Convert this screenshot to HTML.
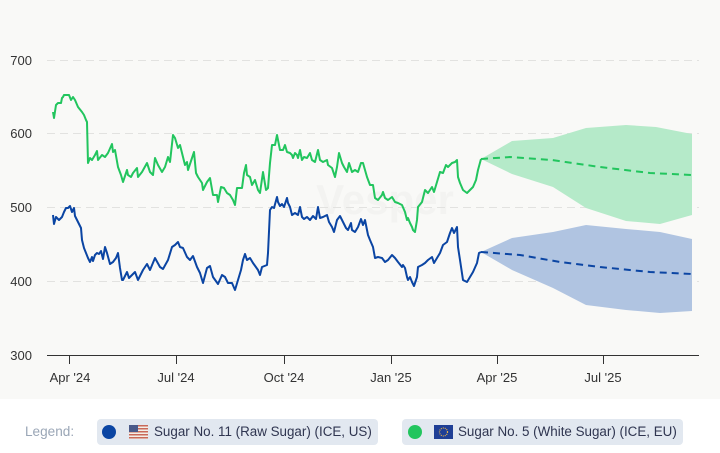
<!DOCTYPE html>
<html><head><meta charset="utf-8"><style>
html,body{margin:0;padding:0;background:#fff;}
body{width:720px;height:453px;overflow:hidden;position:relative;font-family:"Liberation Sans",sans-serif;}
.chart{position:absolute;left:0;top:0;width:720px;height:399px;background:#f9f9f7;}
.leg{position:absolute;top:419px;height:26px;background:#e2e8f0;border-radius:4px;}
.lt{position:absolute;top:0;line-height:26px;font-size:13.4px;color:#2f3550;white-space:nowrap;}
.dot{position:absolute;top:6px;width:14px;height:14px;border-radius:50%;}
</style></head><body>
<div class="chart">
<svg width="720" height="399" viewBox="0 0 720 399" xmlns="http://www.w3.org/2000/svg" style="position:absolute;left:0;top:0">
<text x="385" y="214" font-family="Liberation Sans" font-weight="bold" font-size="42" fill="#f3f3f1" text-anchor="middle">Vesper</text>
<g stroke="#e2e2e0" stroke-width="1" stroke-dasharray="8,5">
<line x1="47" y1="60.5" x2="699" y2="60.5"/>
<line x1="47" y1="133.5" x2="699" y2="133.5"/>
<line x1="47" y1="207.5" x2="699" y2="207.5"/>
<line x1="47" y1="281.5" x2="699" y2="281.5"/>
</g>
<g font-family="Liberation Sans" font-size="13" fill="#333" text-anchor="end">
<text x="32" y="65">700</text>
<text x="32" y="138">600</text>
<text x="32" y="212">500</text>
<text x="32" y="286">400</text>
<text x="32" y="360">300</text>
</g>
<line x1="47" y1="355.5" x2="699" y2="355.5" stroke="#333" stroke-width="1"/>
<g stroke="#333" stroke-width="1">
<line x1="69.5" y1="355" x2="69.5" y2="364"/>
<line x1="176.5" y1="355" x2="176.5" y2="364"/>
<line x1="284.5" y1="355" x2="284.5" y2="364"/>
<line x1="391.5" y1="355" x2="391.5" y2="364"/>
<line x1="497.5" y1="355" x2="497.5" y2="364"/>
<line x1="603.5" y1="355" x2="603.5" y2="364"/>
</g>
<g font-family="Liberation Sans" font-size="13" fill="#333" text-anchor="middle">
<text x="70" y="382">Apr '24</text>
<text x="176" y="382">Jul '24</text>
<text x="284" y="382">Oct '24</text>
<text x="391" y="382">Jan '25</text>
<text x="497" y="382">Apr '25</text>
<text x="603" y="382">Jul '25</text>
</g>
<polygon fill="#b5eac9" points="481,159 512,141 553,138 586,128 626,125 656,127 692,134 692,215 660,224 626,221 586,208 553,187 512,174"/>
<polygon fill="#b0c4e1" points="481,252 512,238 553,232 586,225 626,229 660,232 692,239 692,311 660,313 626,310 586,305 553,288 512,270"/>
<polyline fill="none" stroke="#22c55e" stroke-width="2" stroke-dasharray="7,5" points="481,159 510,157 552,160 600,167 650,173 692,175"/>
<polyline fill="none" stroke="#0b45a3" stroke-width="2" stroke-dasharray="7,5" points="481,252 520,255 560,262 600,267 650,272 692,274"/>
<polyline fill="none" stroke="#22c55e" stroke-width="2" stroke-linejoin="round" points="53,112 54,118 56,105 58,103 61,103 62,98 63,97 64,95 67,95 69,95 71,100 73,97 75,100 78,107 82,112 84,115 86,120 87,122 88,163 90,158 92,160 95,155 97,151 98,160 102,155 105,157 108,153 112,144 113,152 115,150 118,167 121,175 123,182 127,170 128,175 131,177 133,173 137,168 138,177 142,172 147,163 150,172 153,175 155,158 158,165 162,172 165,167 168,157 170,162 173,135 175,138 178,148 180,145 182,153 185,165 187,162 188,170 192,158 194,152 196,173 198,177 202,183 203,190 207,182 210,178 213,195 217,195 218,202 221,187 224,188 227,193 230,195 233,200 235,205 237,188 242,188 244,173 246,165 247,175 250,177 252,185 255,180 258,190 260,193 263,172 266,190 268,188 270,163 272,145 275,145 277,135 278,140 280,150 283,150 285,145 287,152 290,153 292,155 293,158 295,153 297,155 298,158 300,150 302,160 304,157 307,158 310,153 312,160 315,162 318,150 320,160 323,162 327,160 328,165 332,168 335,177 337,167 339,153 342,163 344,167 347,172 349,163 352,172 355,170 358,172 361,163 363,163 365,170 367,177 370,185 373,185 375,198 378,200 382,195 383,192 385,198 388,200 392,197 395,202 398,203 402,205 405,212 407,220 408,218 410,223 412,227 413,230 415,232 417,220 418,207 422,202 425,190 428,193 432,187 434,192 437,182 440,172 443,173 446,165 448,167 452,163 455,162 457,160 458,177 460,183 463,190 467,193 470,190 473,187 476,180 478,170 481,159"/>
<polyline fill="none" stroke="#0b45a3" stroke-width="2" stroke-linejoin="round" points="53,215 54,224 56,217 59,220 62,217 64,212 66,208 68,208 70,206 72,212 74,208 75,216 78,222 81,228 82,240 84,248 86,253 88,258 90,262 92,257 93,261 95,255 97,253 99,254 101,251 103,259 105,247 107,253 110,264 113,262 116,258 118,253 120,268 122,280 123,280 127,272 129,278 135,272 138,280 143,270 147,264 150,270 155,258 160,267 163,269 168,260 172,247 175,245 178,242 180,247 183,248 187,257 190,260 193,256 197,267 200,273 203,283 207,268 210,266 213,277 218,284 222,275 225,277 228,283 232,283 235,290 238,280 241,270 243,260 245,254 247,260 250,258 253,263 258,270 260,275 262,267 267,265 268,253 270,210 272,207 274,208 277,197 278,202 280,206 282,204 284,207 287,198 288,203 290,207 292,215 295,213 298,215 300,207 302,217 304,219 307,217 310,220 313,216 316,219 318,207 320,218 323,217 327,215 329,222 332,227 334,232 337,220 340,216 343,222 346,228 348,230 351,223 352,230 355,232 358,227 361,219 363,225 365,220 367,230 368,235 370,240 373,247 375,258 378,257 382,258 385,262 388,260 392,255 395,258 398,262 402,267 403,265 405,268 407,277 408,280 410,277 412,282 414,286 417,277 418,267 422,265 425,263 428,260 432,257 434,263 437,258 440,253 443,245 447,242 450,233 452,228 454,233 457,227 458,247 460,260 463,280 467,282 470,277 473,272 477,263 479,253 481,252"/>
</svg>
</div>
<div style="position:absolute;left:25px;top:419px;line-height:26px;font-size:13.6px;color:#9aa6b6;">Legend:</div>
<div class="leg" style="left:97px;width:281px;">
  <div class="dot" style="left:5px;background:#0b45a3;"></div>
  <svg style="position:absolute;left:32px;top:6px" width="19" height="14" viewBox="0 0 19 14">
    <rect width="19" height="14" fill="#f3efe8"/>
    <g fill="#c96a5a"><rect y="0" width="19" height="1.5"/><rect y="3" width="19" height="1.5"/><rect y="6" width="19" height="1.5"/><rect y="9" width="19" height="1.5"/><rect y="12" width="19" height="1.5"/></g>
    <rect width="9" height="7" fill="#4a5a8a"/>
  </svg>
  <div class="lt" style="left:57px;">Sugar No. 11 (Raw Sugar) (ICE, US)</div>
</div>
<div class="leg" style="left:402px;width:281px;">
  <div class="dot" style="left:6px;background:#22c55e;"></div>
  <svg style="position:absolute;left:32px;top:6px" width="19" height="14" viewBox="0 0 19 14">
    <rect width="19" height="14" fill="#1f3f96"/>
    <circle cx="9.5" cy="7" r="4" fill="none" stroke="#e6b34a" stroke-width="1.2" stroke-dasharray="1,1"/>
  </svg>
  <div class="lt" style="left:56px;">Sugar No. 5 (White Sugar) (ICE, EU)</div>
</div>
</body></html>
